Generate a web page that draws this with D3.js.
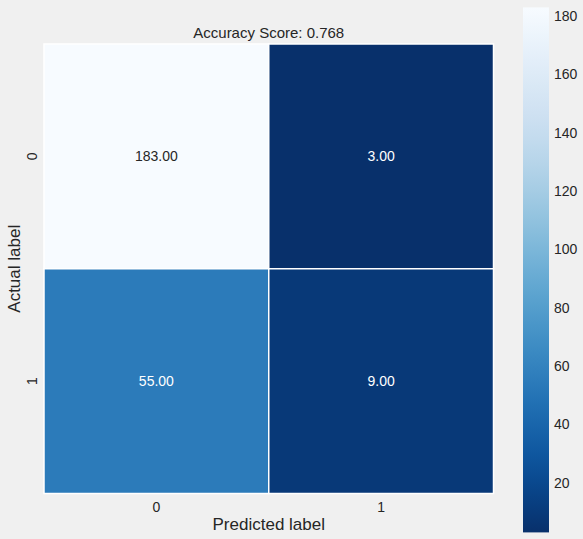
<!DOCTYPE html>
<html><head><meta charset="utf-8">
<script src="https://cdn.jsdelivr.net/npm/d3@7"></script>
<style>
html,body{margin:0;padding:0;background:#f0f0f0;}
text{font-family:"Liberation Sans",Arial,sans-serif;}
</style></head>
<body>
<svg id="c" width="583" height="539"></svg>
<script>
const predictedLabels = ["0", "1"];
const actualLabels = ["0", "1"];
const matrixValues = [
  [183, 3],
  [55, 9]
];
const colorbarTicks = [20, 40, 60, 80, 100, 120, 140, 160, 180];
const titleText = "Accuracy Score: 0.768";

const svg = d3.select("#c");
svg.append("rect").attr("width",583).attr("height",539).attr("fill","#f0f0f0");

const hmLeft = 44, hmTop = 44, hmSize = 449.5;
const x = d3.scaleBand().domain(predictedLabels).range([hmLeft, hmLeft+hmSize]);
const y = d3.scaleBand().domain(actualLabels).range([hmTop, hmTop+hmSize]);
const vmin = 3, vmax = 183;
const color = d3.scaleSequential(t => d3.interpolateBlues(1 - t)).domain([vmin, vmax]);

const cells = [];
matrixValues.forEach((row, i) => row.forEach((v, j) => cells.push({r: actualLabels[i], c: predictedLabels[j], v})));

svg.selectAll("rect.cell").data(cells).enter().append("rect")
  .attr("class","cell")
  .attr("x", d => x(d.c)).attr("y", d => y(d.r))
  .attr("width", x.bandwidth()).attr("height", y.bandwidth())
  .attr("fill", d => color(d.v))
  .attr("stroke", "white").attr("stroke-width", 1.5);

svg.selectAll("text.ann").data(cells).enter().append("text")
  .attr("class","ann")
  .attr("x", d => x(d.c) + x.bandwidth()/2)
  .attr("y", d => y(d.r) + y.bandwidth()/2)
  .attr("text-anchor","middle").attr("dominant-baseline","central")
  .attr("font-size", 14)
  .attr("fill", d => ((d.v - vmin)/(vmax - vmin)) > 0.6 ? "#262626" : "#ffffff")
  .text(d => d.v.toFixed(2));

// x tick labels
svg.selectAll("text.xt").data(predictedLabels).enter().append("text")
  .attr("x", d => x(d) + x.bandwidth()/2).attr("y", 512)
  .attr("text-anchor","middle").attr("font-size",14).attr("fill","#262626")
  .text(d => d);
svg.append("text").attr("x", hmLeft + hmSize/2).attr("y", 530)
  .attr("text-anchor","middle").attr("font-size",17).attr("fill","#262626")
  .text("Predicted label");

// y tick labels
svg.selectAll("text.yt").data(actualLabels).enter().append("text")
  .attr("transform", d => `translate(37,${y(d) + y.bandwidth()/2}) rotate(-90)`)
  .attr("text-anchor","middle").attr("font-size",14).attr("fill","#262626")
  .text(d => d);
svg.append("text").attr("transform", `translate(20,${hmTop + hmSize/2}) rotate(-90)`)
  .attr("text-anchor","middle").attr("font-size",17).attr("fill","#262626")
  .text("Actual label");

// title
svg.append("text").attr("x", hmLeft + hmSize/2).attr("y", 38)
  .attr("text-anchor","middle").attr("font-size",15).attr("fill","#262626")
  .text(titleText);

// colorbar
const cbX = 523, cbW = 26, cbTop = 7.4, cbBot = 532.4;
const cy = d3.scaleLinear().domain([vmin, vmax]).range([cbBot, cbTop]);
const defs = svg.append("defs");
const grad = defs.append("linearGradient").attr("id","cbg").attr("x1",0).attr("y1",1).attr("x2",0).attr("y2",0);
d3.range(0, 1.0001, 0.05).forEach(t => {
  grad.append("stop").attr("offset", t).attr("stop-color", color(vmin + t*(vmax-vmin)));
});
svg.append("rect").attr("x", cbX).attr("y", cbTop).attr("width", cbW).attr("height", cbBot - cbTop).attr("fill","url(#cbg)");
const cbAxis = d3.axisRight(cy).tickValues(colorbarTicks).tickSize(0).tickPadding(5);
const ga = svg.append("g").attr("transform", `translate(${cbX+cbW},0)`).call(cbAxis);
ga.select(".domain").remove();
ga.selectAll("text").attr("font-size",14).attr("fill","#262626").attr("font-family","Liberation Sans, Arial, sans-serif");
</script>
</body></html>
